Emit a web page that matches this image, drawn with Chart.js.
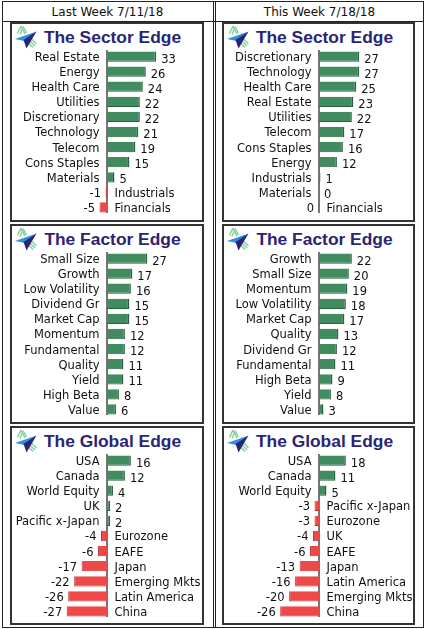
<!DOCTYPE html>
<html>
<head>
<meta charset="utf-8">
<script src="https://cdn.jsdelivr.net/npm/chart.js@4.4.1/dist/chart.umd.min.js"></script>
<style>
  html, body { margin: 0; padding: 0; background: #fff; }
  body { width: 427px; height: 629px; position: relative; overflow: hidden; }
  .abs { position: absolute; }
  .line { position: absolute; background: #222; }
  .hdr { position: absolute; top: 3px; height: 18px; line-height: 18px; text-align: center;
         font-family: "DejaVu Sans", sans-serif; font-size: 12px; color: #111; }
  .panel { position: absolute; box-sizing: border-box; border: 2px solid #333; }
  .title { position: absolute; width: 205px; text-align: center; white-space: nowrap;
           font-family: "Liberation Sans", Arial, sans-serif; font-weight: bold; font-size: 17.4px;
           line-height: 20px; color: #2B2473; }
  canvas { position: absolute; }
</style>
</head>
<body>
<script>
// ---------- DATA ----------
const weekHeaders = ['Last Week 7/11/18', 'This Week 7/18/18'];
const panelTitles = ['The Sector Edge', 'The Factor Edge', 'The Global Edge'];

const sectorLastLabels = ['Real Estate','Energy','Health Care','Utilities','Discretionary','Technology','Telecom','Cons Staples','Materials','Industrials','Financials'];
const sectorLastValues = [33, 26, 24, 22, 22, 21, 19, 15, 5, -1, -5];

const sectorThisLabels = ['Discretionary','Technology','Health Care','Real Estate','Utilities','Telecom','Cons Staples','Energy','Industrials','Materials','Financials'];
const sectorThisValues = [27, 27, 25, 23, 22, 17, 16, 12, 1, 0, -0.3];

const factorLastLabels = ['Small Size','Growth','Low Volatility','Dividend Gr','Market Cap','Momentum','Fundamental','Quality','Yield','High Beta','Value'];
const factorLastValues = [27, 17, 16, 15, 15, 12, 12, 11, 11, 8, 6];

const factorThisLabels = ['Growth','Small Size','Momentum','Low Volatility','Market Cap','Quality','Dividend Gr','Fundamental','High Beta','Yield','Value'];
const factorThisValues = [22, 20, 19, 18, 17, 13, 12, 11, 9, 8, 3];

const globalLastLabels = ['USA','Canada','World Equity','UK','Pacific x-Japan','Eurozone','EAFE','Japan','Emerging Mkts','Latin America','China'];
const globalLastValues = [16, 12, 4, 2, 2, -4, -6, -17, -22, -26, -27];

const globalThisLabels = ['USA','Canada','World Equity','Pacific x-Japan','Eurozone','UK','EAFE','Japan','Latin America','Emerging Mkts','China'];
const globalThisValues = [18, 11, 5, -3, -3, -4, -6, -13, -16, -20, -26];

// ---------- LAYOUT ----------
const colPanelLeft = [10, 222];
const colPanelWidth = [194, 193];
const colCanvasLeft = [10, 222];
const rowPanelTop = [22, 224, 426];
const rowPanelHeight = [200, 200, 199];

const panelData = [
  [[sectorLastLabels, sectorLastValues], [sectorThisLabels, sectorThisValues]],
  [[factorLastLabels, factorLastValues], [factorThisLabels, factorThisValues]],
  [[globalLastLabels, globalLastValues], [globalThisLabels, globalThisValues]]
];

function add(html) { document.body.insertAdjacentHTML('beforeend', html); }

// frame
add('<div class="abs" style="left:2px;top:1px;width:422px;height:627px;box-sizing:border-box;border:1px solid #222;"></div>');
add('<div class="line" style="left:2px;top:21px;width:422px;height:1px;"></div>');
add('<div class="line" style="left:213px;top:1px;width:1px;height:627px;"></div>');
add('<div class="line" style="left:215px;top:1px;width:1px;height:627px;"></div>');
add('<div class="hdr" style="left:2px;width:211px;">' + weekHeaders[0] + '</div>');
add('<div class="hdr" style="left:216px;width:207px;">' + weekHeaders[1] + '</div>');

const logoSVG = `<svg width="24" height="24" viewBox="0 0 24 24" xmlns="http://www.w3.org/2000/svg">
  <g stroke="#86cfa0" stroke-width="1.5" fill="none">
    <line x1="3.5" y1="8.5" x2="7" y2="1"/><line x1="6" y1="9.5" x2="8.5" y2="3.5"/><line x1="7" y1="1" x2="11" y2="9"/><line x1="9" y1="1.5" x2="12.5" y2="8"/>
    <line x1="15" y1="15" x2="21" y2="21"/><line x1="16.5" y1="13" x2="22.5" y2="19"/><line x1="14.5" y1="18" x2="19" y2="22.5"/>
  </g>
  <polygon points="1,14 22.5,6.5 10.5,16" fill="#2f8fe0"/>
  <polygon points="9.5,15 22.5,6.5 12.5,23.5 10.8,18.5" fill="#2B2473"/>
</svg>`;

const labelPlugin = {
  id: 'edgeLabels',
  beforeDatasetsDraw(chart) {
    const { ctx, chartArea, scales: { x } } = chart;
    const x0 = x.getPixelForValue(0);
    ctx.save();
    ctx.strokeStyle = '#767676';
    ctx.lineWidth = 2;
    ctx.beginPath();
    ctx.moveTo(x0, chartArea.top + 1);
    ctx.lineTo(x0, chartArea.bottom - 2);
    ctx.stroke();
    ctx.restore();
  },
  afterDatasetsDraw(chart) {
    const { ctx, scales: { x, y } } = chart;
    const vals = chart.data.datasets[0].data;
    const labels = chart.data.labels;
    const x0 = x.getPixelForValue(0);
    ctx.save();
    ctx.font = '11.5px "DejaVu Sans"';
    ctx.fillStyle = '#111';
    ctx.textBaseline = 'middle';
    vals.forEach((v, i) => {
      const yy = y.getPixelForValue(i) + 1.5;
      const xv = x.getPixelForValue(v);
      const txt = String(Math.round(v));
      if (v < 0) {
        ctx.textAlign = 'right';
        ctx.fillText(txt, Math.min(xv, x0) - 4.5, yy);
        ctx.textAlign = 'left';
        ctx.fillText(labels[i], x0 + 7.5, yy);
      } else {
        ctx.textAlign = 'right';
        ctx.fillText(labels[i], x0 - 7.5, yy);
        ctx.textAlign = 'left';
        ctx.fillText(txt, Math.max(xv, x0) + 5, yy + 1.5);
      }
    });
    ctx.restore();
  }
};

for (let r = 0; r < 3; r++) {
  for (let c = 0; c < 2; c++) {
    const pl = colPanelLeft[c], pt = rowPanelTop[r];
    add(`<div class="panel" style="left:${pl}px;top:${pt}px;width:${colPanelWidth[c]}px;height:${rowPanelHeight[r]}px;"></div>`);
    add(`<div class="abs" style="left:${pl + 4}px;top:${pt + 3}px;width:24px;height:24px;">${logoSVG}</div>`);
    add(`<div class="title" style="left:${pl}px;top:${pt + 4.5}px;">${panelTitles[r]}</div>`);

    const [labels, values] = panelData[r][c];
    const cv = document.createElement('canvas');
    cv.width = 194; cv.height = 166;
    cv.style.left = colCanvasLeft[c] + 'px';
    cv.style.top = (pt + 27) + 'px';
    cv.style.width = '194px'; cv.style.height = '166px';
    document.body.appendChild(cv);

    new Chart(cv.getContext('2d'), {
      type: 'bar',
      data: {
        labels: labels,
        datasets: [{
          data: values,
          backgroundColor: values.map(v => v < 0 ? '#ee4848' : '#418c5f'),
          borderColor: values.map(v => v < 0 ? '#b83232' : '#2a5f3f'),
          borderWidth: values.map(v => v < 0 ? { left: 1, bottom: 1, top: 0, right: 0 } : { right: 1.5, bottom: 1, top: 0, left: 0 }),
          borderSkipped: false,
          barPercentage: 0.68,
          categoryPercentage: 1
        }]
      },
      options: {
        indexAxis: 'y',
        responsive: false,
        animation: false,
        layout: { padding: 0 },
        plugins: { legend: { display: false }, tooltip: { enabled: false }, title: { display: false } },
        scales: {
          x: { display: false, min: -65, max: 65 },
          y: { display: false, offset: true }
        }
      },
      plugins: [labelPlugin]
    });
  }
}
</script>
</body>
</html>
